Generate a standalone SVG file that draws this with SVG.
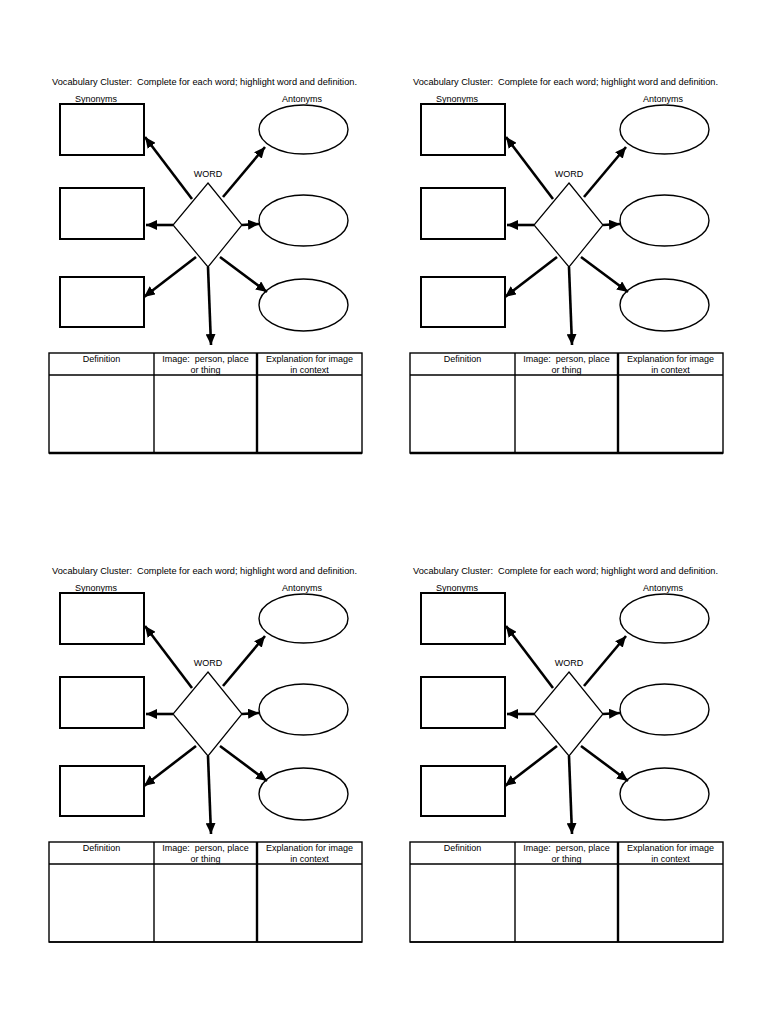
<svg xmlns="http://www.w3.org/2000/svg" width="768" height="1024" viewBox="0 0 768 1024">
<style>
text{font-family:"Liberation Sans",Arial,sans-serif;fill:#000;white-space:pre}
.t{font-size:9px}
.s{font-size:9px;text-anchor:middle}
.box{fill:#fff;stroke:#000;stroke-width:2}
.ell{fill:#fff;stroke:#000;stroke-width:1.4}
.dia{fill:#fff;stroke:#000;stroke-width:1.2}
.arr{stroke:#000;stroke-width:2.6;fill:none;marker-end:url(#ah)}
.tb{fill:none;stroke:#000;stroke-width:1.4}
.tbk{fill:none;stroke:#000;stroke-width:2.4}
</style>
<defs>
<marker id="ah" markerUnits="userSpaceOnUse" viewBox="0 0 11 10" markerWidth="11" markerHeight="10" refX="11" refY="5" orient="auto">
<path d="M0,0 L11,5 L0,10 z" fill="#000"/>
</marker>
</defs>
<rect width="768" height="1024" fill="#fff"/>

<g id="cluster1">
<text class="t" x="52" y="85" textLength="305" lengthAdjust="spacingAndGlyphs" xml:space="preserve">Vocabulary Cluster:  Complete for each word; highlight word and definition.</text>
<g id="c1-syn1"><text class="s" x="96" y="102">Synonyms</text><rect class="box" x="60" y="104" width="84" height="51"/></g>
<g id="c1-syn2"><rect class="box" x="60" y="188" width="84" height="51"/></g>
<g id="c1-syn3"><rect class="box" x="60" y="277" width="84" height="50"/></g>
<g id="c1-ant1"><text class="s" x="302" y="102">Antonyms</text><ellipse class="ell" cx="303.5" cy="129.5" rx="44.5" ry="24.5"/></g>
<g id="c1-ant2"><ellipse class="ell" cx="303.5" cy="220.5" rx="44.5" ry="25.5"/></g>
<g id="c1-ant3"><ellipse class="ell" cx="303.5" cy="305" rx="44.5" ry="26"/></g>
<g id="c1-word"><text class="s" x="208" y="177">WORD</text><path class="dia" d="M208,183 L242,225 L208,267 L173,225 z"/></g>
<g id="c1-table">
<rect class="tb" x="49" y="353" width="313" height="100"/>
<line class="tb" x1="49" y1="375" x2="362" y2="375"/>
<line class="tb" x1="154" y1="353" x2="154" y2="453"/>
<line class="tbk" x1="257" y1="353" x2="257" y2="453"/>
<line class="tbk" x1="49" y1="453" x2="362" y2="453"/>
<text class="s" x="101.5" y="362">Definition</text>
<text class="s" x="205.5" y="362" xml:space="preserve">Image:  person, place</text>
<text class="s" x="205.5" y="373">or thing</text>
<text class="s" x="309.5" y="362">Explanation for image</text>
<text class="s" x="309.5" y="373">in context</text>
</g>
<g id="c1-connectors">
<line class="arr" x1="192" y1="199" x2="145" y2="137"/>
<line class="arr" x1="223" y1="197" x2="265" y2="147"/>
<line class="arr" x1="173" y1="225" x2="146" y2="225"/>
<line class="arr" x1="242" y1="225" x2="259" y2="224"/>
<line class="arr" x1="196" y1="257" x2="144" y2="297"/>
<line class="arr" x1="220" y1="257" x2="267" y2="292"/>
<line class="arr" x1="208" y1="267" x2="211" y2="345"/>
</g>
</g>

<g id="cluster2" transform="translate(361,0)">
<text class="t" x="52" y="85" textLength="305" lengthAdjust="spacingAndGlyphs" xml:space="preserve">Vocabulary Cluster:  Complete for each word; highlight word and definition.</text>
<g id="c2-syn1"><text class="s" x="96" y="102">Synonyms</text><rect class="box" x="60" y="104" width="84" height="51"/></g>
<g id="c2-syn2"><rect class="box" x="60" y="188" width="84" height="51"/></g>
<g id="c2-syn3"><rect class="box" x="60" y="277" width="84" height="50"/></g>
<g id="c2-ant1"><text class="s" x="302" y="102">Antonyms</text><ellipse class="ell" cx="303.5" cy="129.5" rx="44.5" ry="24.5"/></g>
<g id="c2-ant2"><ellipse class="ell" cx="303.5" cy="220.5" rx="44.5" ry="25.5"/></g>
<g id="c2-ant3"><ellipse class="ell" cx="303.5" cy="305" rx="44.5" ry="26"/></g>
<g id="c2-word"><text class="s" x="208" y="177">WORD</text><path class="dia" d="M208,183 L242,225 L208,267 L173,225 z"/></g>
<g id="c2-table">
<rect class="tb" x="49" y="353" width="313" height="100"/>
<line class="tb" x1="49" y1="375" x2="362" y2="375"/>
<line class="tb" x1="154" y1="353" x2="154" y2="453"/>
<line class="tbk" x1="257" y1="353" x2="257" y2="453"/>
<line class="tbk" x1="49" y1="453" x2="362" y2="453"/>
<text class="s" x="101.5" y="362">Definition</text>
<text class="s" x="205.5" y="362" xml:space="preserve">Image:  person, place</text>
<text class="s" x="205.5" y="373">or thing</text>
<text class="s" x="309.5" y="362">Explanation for image</text>
<text class="s" x="309.5" y="373">in context</text>
</g>
<g id="c2-connectors">
<line class="arr" x1="192" y1="199" x2="145" y2="137"/>
<line class="arr" x1="223" y1="197" x2="265" y2="147"/>
<line class="arr" x1="173" y1="225" x2="146" y2="225"/>
<line class="arr" x1="242" y1="225" x2="259" y2="224"/>
<line class="arr" x1="196" y1="257" x2="144" y2="297"/>
<line class="arr" x1="220" y1="257" x2="267" y2="292"/>
<line class="arr" x1="208" y1="267" x2="211" y2="345"/>
</g>
</g>

<g id="cluster3" transform="translate(0,489)">
<text class="t" x="52" y="85" textLength="305" lengthAdjust="spacingAndGlyphs" xml:space="preserve">Vocabulary Cluster:  Complete for each word; highlight word and definition.</text>
<g id="c3-syn1"><text class="s" x="96" y="102">Synonyms</text><rect class="box" x="60" y="104" width="84" height="51"/></g>
<g id="c3-syn2"><rect class="box" x="60" y="188" width="84" height="51"/></g>
<g id="c3-syn3"><rect class="box" x="60" y="277" width="84" height="50"/></g>
<g id="c3-ant1"><text class="s" x="302" y="102">Antonyms</text><ellipse class="ell" cx="303.5" cy="129.5" rx="44.5" ry="24.5"/></g>
<g id="c3-ant2"><ellipse class="ell" cx="303.5" cy="220.5" rx="44.5" ry="25.5"/></g>
<g id="c3-ant3"><ellipse class="ell" cx="303.5" cy="305" rx="44.5" ry="26"/></g>
<g id="c3-word"><text class="s" x="208" y="177">WORD</text><path class="dia" d="M208,183 L242,225 L208,267 L173,225 z"/></g>
<g id="c3-table">
<rect class="tb" x="49" y="353" width="313" height="100"/>
<line class="tb" x1="49" y1="375" x2="362" y2="375"/>
<line class="tb" x1="154" y1="353" x2="154" y2="453"/>
<line class="tbk" x1="257" y1="353" x2="257" y2="453"/>
<line class="tb" x1="49" y1="453" x2="362" y2="453"/>
<text class="s" x="101.5" y="362">Definition</text>
<text class="s" x="205.5" y="362" xml:space="preserve">Image:  person, place</text>
<text class="s" x="205.5" y="373">or thing</text>
<text class="s" x="309.5" y="362">Explanation for image</text>
<text class="s" x="309.5" y="373">in context</text>
</g>
<g id="c3-connectors">
<line class="arr" x1="192" y1="199" x2="145" y2="137"/>
<line class="arr" x1="223" y1="197" x2="265" y2="147"/>
<line class="arr" x1="173" y1="225" x2="146" y2="225"/>
<line class="arr" x1="242" y1="225" x2="259" y2="224"/>
<line class="arr" x1="196" y1="257" x2="144" y2="297"/>
<line class="arr" x1="220" y1="257" x2="267" y2="292"/>
<line class="arr" x1="208" y1="267" x2="211" y2="345"/>
</g>
</g>

<g id="cluster4" transform="translate(361,489)">
<text class="t" x="52" y="85" textLength="305" lengthAdjust="spacingAndGlyphs" xml:space="preserve">Vocabulary Cluster:  Complete for each word; highlight word and definition.</text>
<g id="c4-syn1"><text class="s" x="96" y="102">Synonyms</text><rect class="box" x="60" y="104" width="84" height="51"/></g>
<g id="c4-syn2"><rect class="box" x="60" y="188" width="84" height="51"/></g>
<g id="c4-syn3"><rect class="box" x="60" y="277" width="84" height="50"/></g>
<g id="c4-ant1"><text class="s" x="302" y="102">Antonyms</text><ellipse class="ell" cx="303.5" cy="129.5" rx="44.5" ry="24.5"/></g>
<g id="c4-ant2"><ellipse class="ell" cx="303.5" cy="220.5" rx="44.5" ry="25.5"/></g>
<g id="c4-ant3"><ellipse class="ell" cx="303.5" cy="305" rx="44.5" ry="26"/></g>
<g id="c4-word"><text class="s" x="208" y="177">WORD</text><path class="dia" d="M208,183 L242,225 L208,267 L173,225 z"/></g>
<g id="c4-table">
<rect class="tb" x="49" y="353" width="313" height="100"/>
<line class="tb" x1="49" y1="375" x2="362" y2="375"/>
<line class="tb" x1="154" y1="353" x2="154" y2="453"/>
<line class="tbk" x1="257" y1="353" x2="257" y2="453"/>
<line class="tb" x1="49" y1="453" x2="362" y2="453"/>
<text class="s" x="101.5" y="362">Definition</text>
<text class="s" x="205.5" y="362" xml:space="preserve">Image:  person, place</text>
<text class="s" x="205.5" y="373">or thing</text>
<text class="s" x="309.5" y="362">Explanation for image</text>
<text class="s" x="309.5" y="373">in context</text>
</g>
<g id="c4-connectors">
<line class="arr" x1="192" y1="199" x2="145" y2="137"/>
<line class="arr" x1="223" y1="197" x2="265" y2="147"/>
<line class="arr" x1="173" y1="225" x2="146" y2="225"/>
<line class="arr" x1="242" y1="225" x2="259" y2="224"/>
<line class="arr" x1="196" y1="257" x2="144" y2="297"/>
<line class="arr" x1="220" y1="257" x2="267" y2="292"/>
<line class="arr" x1="208" y1="267" x2="211" y2="345"/>
</g>
</g>
</svg>
